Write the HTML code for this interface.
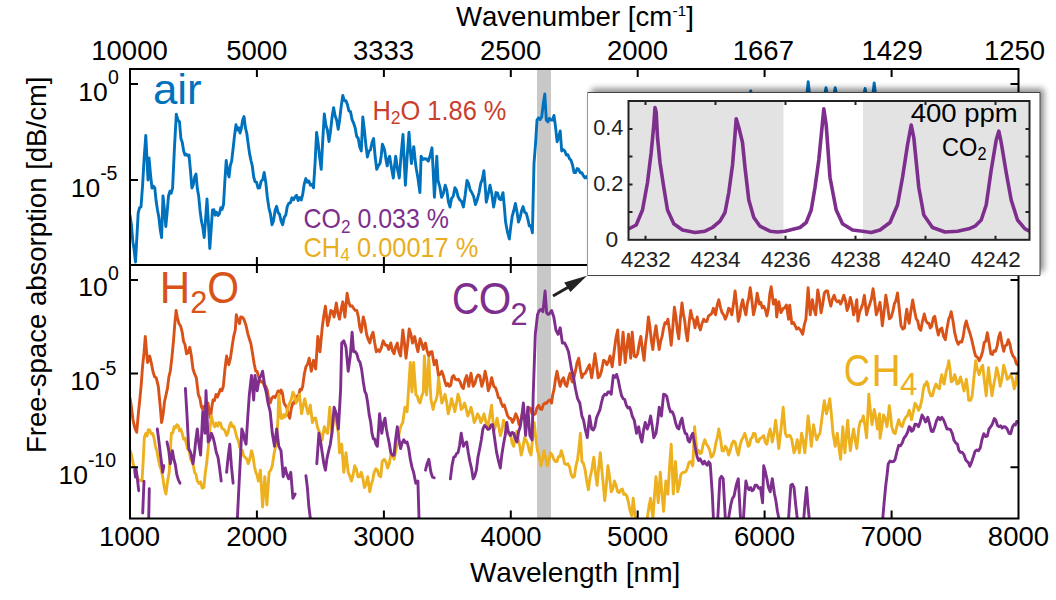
<!DOCTYPE html>
<html><head><meta charset="utf-8"><style>html,body{margin:0;padding:0;background:#fff;overflow:hidden}svg{display:block}</style></head>
<body><svg width="1056" height="600" viewBox="0 0 1056 600" style="font-kerning:none;white-space:pre"><rect x="537" y="69" width="14" height="450" fill="#c8c8c8"/>
<defs><clipPath id="cu"><rect x="130" y="69" width="888.5" height="196"/></clipPath><clipPath id="cl"><rect x="130" y="265" width="888.5" height="253.5"/></clipPath></defs>
<g clip-path="url(#cu)" fill="none" stroke-linejoin="round" stroke-linecap="round" stroke-width="2.9">
<polyline stroke="#0072bd" points="130.0,215.5 131.4,224.7 132.8,241.2 134.1,249.5 135.5,262.0 136.8,238.3 138.2,212.8 139.6,207.7 141.0,207.0 142.6,185.2 144.2,157.3 145.8,135.4 148.0,180.0 149.0,158.0 150.5,174.3 152.0,188.0 153.4,186.2 154.8,188.0 156.1,200.8 157.5,210.0 158.9,217.4 160.2,229.4 161.6,237.5 163.0,196.0 164.4,209.7 165.8,226.5 167.1,212.7 168.5,196.0 169.9,191.3 171.2,193.2 172.6,188.0 174.4,148.7 176.3,114.3 177.9,119.9 179.5,122.0 180.9,138.5 182.3,142.5 183.6,150.7 185.0,155.0 186.3,154.2 187.7,155.8 189.0,155.0 190.4,169.9 191.9,188.0 193.3,184.6 194.6,177.3 196.0,174.0 197.3,188.3 198.7,196.3 200.0,210.0 201.4,220.9 202.8,227.2 204.2,237.5 205.6,219.0 207.0,199.0 208.4,222.4 209.8,248.5 211.1,230.2 212.5,210.0 213.9,209.7 215.2,215.2 216.6,212.2 218.0,215.5 219.4,213.8 220.8,207.7 222.1,209.4 223.5,204.5 224.9,180.5 226.2,160.5 227.6,171.1 229.0,177.0 230.3,165.7 231.7,160.8 233.0,149.5 234.5,135.8 236.0,124.8 237.3,130.0 238.7,127.8 240.0,133.0 241.3,128.5 242.7,119.9 244.0,116.5 245.4,127.7 246.8,133.3 248.2,144.0 249.6,153.9 251.0,160.5 252.3,166.0 253.7,177.0 255.0,181.7 256.5,182.1 258.1,188.0 259.6,187.8 261.1,181.3 262.7,179.8 264.2,172.4 265.8,182.4 267.3,197.0 268.9,207.8 270.4,213.8 272.0,224.8 273.5,221.0 275.1,210.5 276.6,206.3 278.1,212.5 279.6,214.4 281.2,221.5 282.7,224.8 284.2,217.4 285.8,215.0 287.3,206.3 288.9,203.2 290.4,202.9 291.9,197.8 293.5,199.8 295.0,197.0 296.6,195.3 298.1,200.5 299.6,197.6 301.2,200.0 302.7,194.5 304.3,183.8 305.8,178.6 307.3,182.2 308.9,181.0 310.4,185.2 312.0,184.3 313.5,187.8 315.1,162.5 316.6,132.4 318.1,142.9 319.7,157.9 321.2,169.3 322.8,139.4 324.3,113.9 325.9,125.2 327.4,130.0 329.0,141.6 330.5,131.4 332.1,116.9 333.6,107.7 335.1,115.8 336.7,120.2 338.2,129.3 339.7,119.2 341.3,105.6 342.8,95.4 344.3,100.7 345.9,100.6 347.4,104.6 348.9,110.9 350.5,111.6 352.1,119.7 353.6,123.1 355.1,127.5 356.7,136.5 358.2,138.3 359.8,147.3 361.3,150.9 362.8,117.0 364.3,129.5 365.9,145.1 367.4,157.0 368.9,151.3 370.5,149.7 372.1,142.2 373.6,138.5 375.1,156.3 376.7,169.3 378.4,165.6 380.0,163.5 381.2,155.9 382.4,144.2 383.6,147.0 384.8,151.4 386.0,159.8 387.2,165.9 388.4,158.9 389.7,156.2 391.5,168.1 393.3,178.0 394.5,166.0 395.7,156.2 397.5,169.1 399.3,178.0 401.1,154.8 403.0,134.5 404.2,160.7 405.4,185.2 407.2,156.2 409.0,132.1 410.2,148.8 411.4,163.5 412.6,154.2 413.8,146.6 415.0,158.8 416.2,168.3 418.0,178.6 419.9,192.5 421.1,156.2 422.9,159.5 424.7,158.7 426.5,159.0 428.3,161.1 430.1,155.8 432.0,147.8 433.2,171.7 434.4,197.3 435.6,178.3 436.8,156.2 438.0,180.4 439.8,186.8 441.6,197.3 443.4,193.3 445.2,185.2 446.8,190.1 448.4,201.8 450.0,207.0 451.6,198.3 453.3,196.1 454.9,187.7 456.5,190.1 458.1,196.8 459.7,199.7 461.5,201.4 463.4,207.0 465.2,195.0 467.0,180.4 468.6,183.5 470.2,190.0 471.8,192.5 473.6,196.3 475.5,204.6 477.3,199.5 479.1,192.5 480.7,183.5 482.3,179.4 483.9,170.7 485.1,184.8 486.3,202.2 488.1,194.7 490.0,185.2 491.8,193.7 493.6,207.0 494.8,201.0 496.0,192.5 497.6,193.1 499.2,198.8 500.8,199.7 503.0,192.7 504.3,206.6 505.6,222.0 507.5,232.2 509.3,239.0 510.8,226.4 512.3,215.8 513.8,210.5 515.4,203.5 517.0,211.9 518.5,222.0 520.0,217.9 521.6,210.7 523.1,206.5 524.7,212.5 526.2,213.1 527.8,218.9 529.3,226.0 530.9,225.8 532.4,232.8 534.0,163.3 535.5,144.2 537.0,120.1 538.6,117.9 540.1,119.6 541.7,117.0 543.2,104.3 544.8,93.9 546.3,120.1 547.9,121.9 549.4,118.3 551.0,120.1 552.5,120.0 554.0,115.5 555.5,126.6 557.1,141.7 558.7,137.5 560.2,130.9 561.7,151.0 563.2,149.5 564.8,151.0 566.3,155.0 567.9,154.8 569.5,158.7 571.0,160.2 572.5,164.9 574.1,172.6 575.6,172.5 577.2,168.5 578.7,169.5 580.2,172.7 581.8,172.7 583.3,175.7 584.9,177.8 586.4,176.6 588.0,178.8 589.5,180.7 591.0,178.7 592.5,182.7 594.0,180.6 595.5,184.5 597.0,182.3 598.5,186.6 600.0,185.0 601.5,182.9 603.1,187.8 604.6,184.6 606.2,188.2 607.7,185.2 609.2,188.1 610.8,186.2 612.3,189.7 613.8,187.4 615.4,189.8 616.9,187.1 618.5,191.0 620.0,190.0"/>
<polyline stroke="#0072bd" points="749.2,96 750.7,91 752.2,96"/>
<polyline stroke="#0072bd" points="806.7,96 808.2,81.7 809.7,96"/>
<polyline stroke="#0072bd" points="824.5,96 826.0,87.8 827.5,96"/>
<polyline stroke="#0072bd" points="833.7,96 835.2,87.8 836.7,96"/>
<polyline stroke="#0072bd" points="863.6,96 865.1,88.5 866.6,96"/>
<polyline stroke="#0072bd" points="872.7,96 874.2,83 875.7,96"/>
</g>
<g clip-path="url(#cl)" fill="none" stroke-linejoin="round" stroke-linecap="round" stroke-width="2.9">
<polyline stroke="#d95319" points="130.0,398.0 131.5,407.8 133.0,420.0 134.8,427.9 136.7,432.3 138.3,414.1 139.9,398.7 141.2,385.0 142.6,365.8 144.0,352.9 145.3,336.5 147.5,362.5 149.7,356.0 151.3,362.8 152.9,371.2 154.6,376.7 156.2,377.7 158.3,386.3 159.9,403.2 161.6,422.5 163.1,414.5 164.5,401.7 166.0,395.0 167.4,388.6 168.9,376.9 170.3,371.2 171.9,357.6 173.5,340.8 174.8,323.8 176.1,310.5 177.5,318.0 178.9,323.5 180.6,326.0 182.2,332.2 183.6,341.7 185.1,344.9 186.5,353.8 188.2,352.6 189.8,347.3 191.4,356.2 193.0,369.0 194.7,374.2 196.3,377.7 198.4,395.0 199.8,397.8 201.3,406.5 202.7,409.5 204.0,406.6 205.3,407.1 206.7,402.4 208.0,403.0 209.2,412.1 210.5,418.0 211.8,407.0 213.0,400.0 214.5,400.5 216.0,394.5 217.5,397.1 219.0,393.0 220.4,389.3 221.9,390.7 223.3,386.3 224.9,369.6 226.6,356.0 228.8,364.7 230.4,358.4 232.0,347.3 233.7,336.4 235.3,330.0 236.3,314.8 237.9,320.1 239.6,323.5 240.7,317.0 242.3,317.1 243.9,319.2 246.1,325.7 247.7,333.3 249.3,338.7 250.9,343.8 252.6,353.8 254.2,364.0 255.8,371.2 257.1,371.5 258.3,375.5 259.9,380.0 261.5,382.0 262.9,381.8 264.4,386.3 265.8,386.3 267.3,390.5 268.7,399.2 270.2,403.0 271.8,398.0 273.4,396.5 275.0,397.7 276.7,394.3 278.1,390.9 279.6,393.8 281.0,390.0 282.4,392.8 283.9,402.6 285.3,405.2 286.8,407.6 288.2,414.9 289.7,418.2 291.3,408.3 292.9,403.0 294.4,403.3 295.8,396.3 297.3,396.5 298.6,395.7 300.0,389.4 301.4,390.0 302.7,386.3 304.3,374.3 305.9,366.8 307.5,364.3 309.2,358.2 311.3,371.2 313.5,360.3 315.7,369.0 317.8,336.5 320.0,351.7 322.2,327.8 323.8,315.8 325.4,306.2 327.6,325.7 329.2,319.0 330.8,310.5 332.5,311.5 334.1,317.0 336.3,302.9 337.9,313.5 339.5,319.2 341.1,309.6 342.8,301.8 344.9,317.0 347.1,293.2 348.7,301.9 350.3,306.2 352.0,305.8 353.6,308.3 355.2,310.4 356.8,310.5 358.3,316.5 359.7,327.1 361.2,332.2 363.3,317.0 365.0,323.4 366.6,334.3 368.2,339.5 369.8,343.0 371.5,335.8 373.1,332.2 374.7,342.8 376.3,351.7 378.0,349.7 379.6,351.7 381.4,347.6 383.2,340.8 385.4,345.2 387.0,345.1 388.7,349.5 390.8,343.0 392.5,350.9 394.1,353.8 395.7,346.8 397.3,343.0 399.0,352.0 400.6,356.0 402.8,330.0 404.4,342.8 406.0,358.2 407.6,344.4 409.2,328.9 410.9,334.2 412.5,343.0 414.7,336.5 416.3,344.9 417.9,351.7 420.1,338.7 421.7,343.0 423.3,349.5 425.5,343.0 427.1,351.0 428.8,356.0 430.4,352.0 432.0,351.7 434.2,364.7 436.3,360.3 438.5,375.5 440.1,374.4 441.8,371.2 443.4,375.8 445.0,382.0 446.4,385.7 447.9,383.6 449.3,386.3 450.8,385.1 452.2,376.8 453.7,375.5 455.3,379.1 456.9,379.8 458.5,379.3 460.2,382.0 461.8,386.9 463.4,388.5 465.0,380.1 466.7,375.5 468.8,386.3 471.0,373.3 473.2,386.3 474.8,383.8 476.4,377.7 478.0,374.9 479.7,375.5 481.8,386.3 483.5,380.6 485.1,371.2 486.7,378.6 488.3,390.7 490.0,385.8 491.6,377.7 493.8,386.3 495.4,387.6 497.0,392.0 498.4,397.7 499.9,398.2 501.3,403.0 502.8,406.4 504.2,404.9 505.7,409.5 507.5,415.5 509.3,418.2 511.0,418.6 512.6,422.5 514.2,418.9 515.8,413.8 517.5,417.8 519.1,424.7 520.7,421.0 522.3,413.8 524.0,415.2 525.6,418.2 527.2,414.6 528.8,407.3 530.5,408.7 532.1,413.8 533.7,414.7 535.3,413.8 537.0,407.7 538.6,405.2 540.2,408.9 541.8,409.5 543.5,404.3 545.1,403.0 546.7,403.3 548.3,400.8 550.0,399.9 551.6,403.0 552.7,395.0 554.1,389.1 555.6,378.3 557.0,371.2 558.6,379.6 560.2,386.3 561.9,380.1 563.5,377.7 565.1,384.4 566.8,386.3 568.4,378.6 570.0,373.3 572.2,382.0 573.8,378.1 575.4,371.2 577.0,362.9 578.7,358.2 580.3,369.3 581.9,377.7 583.5,374.1 585.2,373.3 587.3,369.0 589.5,364.7 591.7,377.7 593.3,367.0 594.9,353.8 596.5,364.4 598.2,377.7 599.8,376.2 601.4,371.2 603.6,360.3 605.2,361.2 606.8,364.7 608.5,361.8 610.1,356.0 612.2,366.8 614.4,349.5 616.0,337.6 617.7,330.0 619.8,364.7 621.5,349.2 623.1,332.2 625.2,362.5 626.9,346.7 628.5,334.3 630.7,358.2 632.2,332.2 634.3,356.0 636.0,356.9 637.6,353.8 639.2,343.9 640.8,336.5 642.5,349.5 644.1,360.3 645.5,343.7 647.0,332.6 648.4,317.0 649.9,326.8 651.3,340.2 652.8,349.5 654.4,335.6 656.0,325.7 657.6,338.5 659.2,349.5 660.7,341.0 662.1,336.4 663.6,327.8 665.0,322.7 666.5,323.6 667.9,319.2 669.5,330.0 671.2,345.2 672.8,327.3 674.4,307.2 675.9,316.4 677.3,330.1 678.8,338.7 680.4,318.5 682.0,302.9 683.4,313.9 684.7,320.7 686.0,332.3 687.4,340.8 689.0,324.0 690.7,310.5 692.1,317.4 693.6,319.9 695.0,327.8 697.2,317.0 698.8,325.7 700.4,330.0 702.0,323.5 703.7,319.2 705.3,321.5 706.9,321.3 708.5,315.9 710.2,314.8 711.8,313.4 713.4,308.3 715.6,314.8 717.2,305.1 718.8,299.7 720.5,307.6 722.1,312.7 723.7,315.0 725.3,319.2 727.0,315.0 728.6,308.3 730.2,309.4 731.8,314.8 733.5,304.1 735.1,291.0 736.7,304.8 738.3,321.3 739.8,315.6 741.2,305.4 742.7,299.7 744.3,308.7 745.9,314.8 747.4,303.4 748.8,297.8 750.2,287.8 751.9,300.5 753.5,314.8 755.4,306.4 757.2,293.2 759.3,304.0 760.8,302.4 762.2,307.9 763.7,306.2 765.3,309.5 766.9,315.9 768.4,308.6 769.8,294.1 771.2,286.7 773.4,304.0 775.6,299.7 776.7,317.0 778.8,301.8 781.0,312.7 783.2,308.3 784.8,307.8 786.4,305.1 788.6,319.2 789.7,305.1 791.8,323.5 793.5,322.5 795.1,325.7 796.7,329.0 798.3,327.8 800.5,330.0 802.7,334.3 804.3,324.8 805.9,319.2 808.1,287.8 810.2,314.8 812.4,299.7 814.0,308.9 815.7,314.8 817.8,289.9 819.5,300.0 821.1,312.7 822.7,304.3 824.3,293.2 826.0,291.0 827.6,291.0 829.2,299.5 830.8,306.2 832.5,299.0 834.1,295.3 835.7,299.8 837.3,301.8 839.0,300.7 840.6,304.0 842.2,300.5 843.8,295.3 845.5,300.6 847.1,310.5 848.7,306.0 850.3,297.5 852.0,303.8 853.6,314.8 855.2,309.6 856.8,299.7 857.9,321.3 859.5,312.5 861.2,308.3 862.8,303.6 864.4,295.3 866.6,314.8 868.2,308.6 869.8,304.0 871.5,298.5 873.1,288.8 874.7,300.7 876.3,314.8 878.1,309.8 880.0,302.3 881.1,312.1 882.3,325.7 884.0,312.2 885.8,295.3 887.5,305.5 889.3,318.7 891.0,317.6 892.8,311.7 894.4,303.6 895.9,300.6 897.5,293.0 899.2,308.2 901.0,325.7 902.8,329.1 904.5,328.0 905.6,317.1 906.8,309.3 908.0,318.4 909.2,323.3 911.0,310.3 912.7,300.0 914.5,310.4 916.2,318.7 917.7,320.9 919.3,328.6 920.8,330.3 922.5,321.1 924.3,314.0 926.0,320.8 927.8,323.3 929.0,323.3 930.2,328.0 931.7,326.3 933.3,318.0 934.8,316.3 936.5,326.4 938.3,335.0 940.0,329.6 941.8,328.0 943.5,336.1 945.3,339.7 947.0,328.4 948.8,318.7 950.0,316.4 951.2,311.7 953.0,321.0 954.7,332.7 956.5,340.2 958.2,344.3 960.0,341.7 961.7,342.0 963.2,336.6 964.8,325.9 966.3,321.0 968.0,327.6 969.8,332.7 971.5,338.9 973.3,346.7 974.5,352.3 975.7,356.0 977.5,357.4 979.2,360.7 981.0,356.9 982.7,351.3 984.2,342.6 985.8,341.1 987.3,332.7 989.0,342.3 990.8,353.7 992.4,354.5 993.9,350.8 995.5,351.3 997.1,346.4 998.6,337.5 1000.2,332.7 1002.0,343.9 1003.7,351.3 1005.2,345.7 1006.8,344.9 1008.3,339.7 1009.9,344.0 1011.4,351.9 1013.0,356.0 1014.7,358.0 1016.3,363.7 1018.0,365.0"/>
<polyline stroke="#edb120" points="130.0,450.0 131.5,454.8 133.0,462.9 134.5,468.0 135.9,470.9 137.4,477.7 138.8,481.0 140.4,480.1 142.0,481.0 143.2,460.8 144.3,437.7 145.7,433.4 147.0,436.0 148.3,429.8 149.7,430.0 151.1,433.7 152.6,433.4 154.0,437.7 155.4,446.1 156.9,451.0 158.3,459.3 159.8,466.0 161.2,469.8 162.7,476.7 164.3,487.7 165.9,494.0 167.6,480.9 169.2,472.3 171.3,433.3 172.7,433.3 174.1,426.8 175.4,427.9 176.8,424.7 178.2,425.6 179.5,430.8 180.8,429.1 182.2,433.3 183.6,439.2 185.1,438.3 186.5,444.2 187.8,449.4 189.2,451.0 190.6,459.1 191.9,461.5 193.2,464.7 194.6,472.3 196.0,474.5 197.3,481.0 198.9,483.5 200.6,481.9 202.2,488.1 203.8,487.5 205.3,472.8 206.7,462.8 208.2,448.5 209.8,429.9 211.4,416.0 213.1,423.2 214.7,426.8 216.1,423.1 217.6,426.2 219.0,422.5 220.4,423.0 221.9,428.3 223.3,429.0 224.9,430.5 226.6,435.5 228.0,432.7 229.5,425.8 230.9,422.5 232.4,426.7 233.8,426.1 235.3,431.2 236.7,437.1 238.2,440.4 239.6,446.3 240.9,450.9 242.3,450.5 243.7,456.2 245.0,457.2 246.7,458.9 248.3,463.7 249.9,458.5 251.5,450.7 252.9,455.4 254.4,466.2 255.8,472.3 257.1,475.2 258.3,481.0 260.4,470.2 262.6,507.0 264.8,476.7 266.9,504.8 269.1,472.3 270.7,470.2 272.3,465.8 274.0,454.2 275.6,446.3 277.8,422.5 278.8,394.3 281.0,418.2 282.4,418.3 283.7,414.6 285.0,417.0 286.4,413.8 288.0,407.1 289.7,403.0 291.3,399.3 292.9,392.2 294.5,395.3 296.2,403.0 297.8,399.6 299.4,394.3 301.6,413.8 303.2,405.4 304.8,398.7 306.5,407.4 308.1,413.8 310.3,405.2 312.4,422.5 314.0,418.3 315.7,418.2 317.3,426.5 318.9,431.2 320.5,434.3 322.2,439.8 324.3,426.8 326.0,431.4 327.6,433.3 329.8,407.3 331.9,433.3 333.5,421.4 335.2,411.7 336.8,424.1 338.4,433.3 339.5,452.8 341.7,444.2 343.8,472.3 346.0,452.8 348.2,472.3 349.8,475.8 351.4,481.0 353.0,475.4 354.7,465.8 356.3,468.9 357.9,476.7 359.5,476.9 361.2,472.3 362.8,477.9 364.4,487.5 366.0,484.5 367.7,476.7 369.8,491.8 371.3,484.5 372.7,480.1 374.2,472.3 375.8,468.8 377.4,470.2 379.0,475.6 380.7,476.7 382.2,461.5 384.3,459.3 386.0,462.2 387.6,468.0 389.2,463.9 390.8,455.0 392.5,455.3 394.1,459.3 396.2,448.5 397.9,442.0 399.5,431.2 401.1,425.6 402.8,422.5 404.9,407.3 407.1,411.7 408.2,395.0 410.3,362.5 412.0,392.0 413.6,362.5 414.8,379.8 416.0,395.0 417.4,396.1 418.7,401.3 420.1,403.0 421.7,396.2 423.3,392.2 424.4,356.0 426.6,395.0 428.8,358.2 429.9,381.5 431.0,400.0 433.1,409.5 434.5,403.1 436.0,400.1 437.4,394.3 438.5,377.7 440.1,389.5 441.8,403.0 443.4,399.7 445.0,394.3 446.6,401.9 448.2,413.8 449.9,407.6 451.5,398.7 453.1,403.9 454.8,411.7 456.4,403.9 458.0,394.3 459.6,399.4 461.2,409.5 462.9,407.7 464.5,403.0 466.1,408.4 467.8,416.0 469.4,412.5 471.0,407.3 472.6,414.1 474.2,422.5 475.9,419.2 477.5,413.8 479.1,416.2 480.8,422.5 482.4,419.2 484.0,413.8 485.6,420.6 487.3,429.0 489.4,418.2 491.6,405.2 493.8,431.2 495.4,426.3 497.0,418.2 498.6,425.7 500.3,435.5 501.9,430.4 503.5,420.3 505.1,424.8 506.8,431.2 508.0,433.9 509.3,433.3 510.8,435.5 512.2,443.4 513.7,446.3 515.3,436.3 516.9,431.2 518.4,440.7 519.8,445.9 521.2,455.0 522.9,447.8 524.5,437.7 526.1,440.1 527.8,444.2 529.4,451.1 531.0,455.0 532.6,437.6 534.2,422.5 535.9,438.9 537.5,450.7 539.1,456.0 540.8,465.8 542.4,459.9 544.0,450.7 545.6,457.4 547.2,465.8 548.9,460.5 550.5,452.8 552.1,454.9 553.8,459.3 555.4,461.5 557.0,461.5 558.4,456.7 559.9,456.6 561.3,450.7 563.0,456.2 564.6,463.7 566.2,464.5 567.8,463.7 569.5,466.7 571.1,474.5 572.7,477.3 574.3,476.7 576.0,465.5 577.6,459.3 579.0,447.8 580.4,433.3 581.9,461.5 583.5,463.5 585.2,470.2 586.8,481.8 588.4,489.7 590.0,477.8 591.7,470.2 593.8,457.2 595.5,473.3 597.1,485.3 598.7,467.4 600.3,452.8 601.8,469.6 603.2,483.5 604.7,500.5 606.3,485.4 607.9,465.8 609.5,476.5 611.2,491.8 612.8,488.8 614.4,481.0 616.0,485.1 617.7,491.8 619.3,492.6 620.9,489.7 622.4,489.0 623.8,494.4 625.2,494.0 626.9,496.2 628.5,502.7 630.1,510.9 631.8,515.7 633.2,498.3 635.4,518.0"/>
<polyline stroke="#edb120" points="647.3,518.0 649.0,506.3 650.6,498.3 651.8,510.2 653.0,518.0 654.5,495.2 656.0,476.7 658.2,502.7 660.3,472.3 662.0,494.2 663.6,511.3 665.8,481.0 667.9,494.0 669.5,467.1 671.2,444.2 673.3,494.0 675.5,461.5 677.7,491.8 679.3,485.5 680.9,474.5 682.5,472.6 684.2,472.3 685.8,471.7 687.4,468.0 689.0,462.3 690.7,461.5 692.8,465.8 694.6,426.8 695.9,441.7 697.2,452.8 698.6,450.5 700.1,453.7 701.5,452.8 703.1,444.7 704.8,439.8 706.4,444.2 708.0,446.3 709.6,450.0 711.2,457.2 712.9,455.7 714.5,450.7 715.9,442.7 717.4,437.4 718.8,429.0 720.5,438.6 722.1,450.7 723.7,450.9 725.3,446.3 727.0,448.6 728.6,455.0 730.2,450.6 731.8,444.2 733.5,441.0 735.1,442.0 736.7,449.5 738.3,455.0 740.0,445.6 741.6,439.8 743.2,437.5 744.8,433.3 746.5,439.0 748.1,446.3 749.5,445.3 750.8,438.7 752.1,437.7 753.5,433.3 755.1,433.7 756.7,441.4 758.2,442.0 759.9,438.6 761.5,437.7 763.7,435.5 765.3,442.3 766.9,444.2 768.5,434.9 770.2,429.0 772.3,442.0 774.0,433.1 775.6,420.3 777.2,433.3 778.8,448.5 781.0,429.0 783.2,407.3 785.3,433.3 787.0,436.8 788.6,435.5 790.2,435.7 791.8,439.8 794.0,452.8 795.6,448.7 797.2,439.8 799.4,452.8 801.6,433.3 803.2,440.7 804.8,452.8 806.5,435.7 808.1,416.0 809.7,429.8 811.3,446.3 813.5,424.7 815.1,433.3 816.8,439.8 818.4,435.5 820.0,433.3 822.2,416.0 824.3,400.8 826.5,413.8 828.1,407.1 829.8,398.7 831.4,414.7 833.0,433.3 835.2,446.3 837.3,433.3 839.0,448.1 840.6,459.3 842.8,426.8 844.9,452.8 846.3,435.8 847.7,420.3 849.0,437.4 850.3,450.7 852.0,438.5 853.6,429.0 855.2,440.0 856.8,448.5 859.0,426.8 860.4,421.0 861.9,421.2 863.3,416.0 865.0,425.5 866.6,437.7 868.8,394.3 870.4,411.1 872.0,424.7 874.2,409.5 875.8,417.3 877.4,429.0 879.6,413.8 880.0,438.3 881.8,427.5 883.5,415.0 885.2,418.4 887.0,426.7 888.1,417.0 889.3,405.7 890.5,414.1 891.7,426.7 893.5,432.4 895.2,433.7 897.0,425.9 898.7,419.7 900.5,425.3 902.2,426.7 904.0,420.6 905.7,417.3 907.5,415.6 909.2,410.3 910.4,414.2 911.5,419.7 913.2,412.3 915.0,403.3 916.8,405.7 918.5,410.3 920.2,406.9 922.0,398.7 923.1,390.6 924.3,384.7 925.5,385.3 926.7,381.7 927.9,384.0 929.0,391.0 930.8,395.7 932.5,395.7 934.2,388.5 936.0,384.0 937.8,387.7 939.5,388.7 940.6,380.0 941.8,374.7 943.0,381.5 944.2,384.0 945.4,376.1 946.5,370.0 947.6,367.4 948.8,360.7 950.0,369.1 951.2,381.7 953.0,380.5 954.7,374.7 955.9,378.5 957.0,384.0 958.8,382.9 960.5,377.0 962.2,383.1 964.0,391.0 965.1,386.5 966.3,379.3 967.5,388.0 968.7,400.3 970.5,400.4 972.2,395.7 974.0,376.9 975.7,360.7 977.5,370.1 979.2,374.7 981.0,368.3 982.7,365.3 984.5,381.8 986.2,395.7 987.4,380.4 988.5,367.7 990.2,382.8 992.0,395.7 993.6,385.5 995.1,378.0 996.7,367.7 998.5,375.0 1000.2,386.3 1002.0,378.3 1003.7,365.3 1005.5,371.3 1007.2,379.3 1009.0,377.8 1010.7,374.7 1012.5,379.2 1014.2,388.7 1015.5,384.8 1016.7,376.1 1018.0,372.0"/>
<polyline stroke="#7e2f8e" points="134.7,470.0 135.5,477.0"/>
<polyline stroke="#7e2f8e" points="136.0,468.7 137.3,478.2 138.7,490.7"/>
<polyline stroke="#7e2f8e" points="142.7,513.0 144.0,481.3"/>
<polyline stroke="#7e2f8e" points="148.7,518.7 149.3,488.7"/>
<polyline stroke="#7e2f8e" points="157.3,429.0 158.9,441.1 160.5,455.0 162.7,472.3 163.8,465.8"/>
<polyline stroke="#7e2f8e" points="167.0,442.0 168.7,450.4 170.3,463.7 172.4,450.7 173.9,459.4 175.3,464.5 176.8,474.5 178.4,479.9 180.0,483.2"/>
<polyline stroke="#7e2f8e" points="185.4,388.5 187.1,417.1 188.7,448.5 190.8,452.8 193.0,463.7 194.4,453.7 195.9,439.1 197.3,429.0 198.9,443.5 200.6,455.0 202.8,411.7 203.9,421.0 205.0,433.3 206.0,390.7 208.2,442.0 209.8,439.6 211.4,433.3 213.1,437.5 214.7,444.2 216.3,452.6 218.0,457.2 219.6,468.3 221.2,481.0"/>
<polyline stroke="#7e2f8e" points="226.6,472.3 228.2,456.6 229.8,444.2 231.4,465.9 233.1,483.2"/>
<polyline stroke="#7e2f8e" points="237.4,518.0 238.9,487.3 240.3,460.6 241.8,429.0 243.2,432.7 244.7,440.2 246.1,444.2 247.7,418.0 249.3,395.0 251.5,375.5 253.7,400.0 255.0,375.5 257.2,390.7 259.3,377.7 261.0,376.1 262.6,371.2 264.8,386.3 266.4,393.1 268.0,403.0 270.2,411.7 272.3,433.3 274.5,446.3 276.7,429.0 278.8,446.3 281.0,450.7 283.2,476.7 285.3,468.0 287.0,475.0 288.6,478.8 290.8,472.3 292.9,498.3 295.1,494.0"/>
<polyline stroke="#7e2f8e" points="305.9,475.6 307.4,487.8 308.8,506.0 310.3,518.0"/>
<polyline stroke="#7e2f8e" points="316.8,463.7 318.9,433.3 320.5,440.7 322.2,452.8 323.8,463.5 325.4,470.2 327.0,458.4 328.7,450.7 330.3,444.3 331.9,433.3 334.1,407.3 336.3,413.8 338.4,429.0 340.6,390.0 341.7,343.0 343.8,340.8 346.0,347.3 348.2,371.2 350.3,356.0 352.1,332.2 353.6,351.7 355.2,351.5 356.8,353.8 358.5,360.0 360.1,362.5 361.7,369.9 363.3,382.0 364.8,391.3 366.2,394.2 367.7,403.0 369.1,414.1 370.6,421.7 372.0,433.3 373.4,439.0 374.7,438.9 376.0,444.4 377.4,446.3 379.6,413.8 381.8,433.3 383.4,423.3 385.0,418.2 386.3,428.4 387.6,435.5 389.2,443.0 390.8,452.8 392.5,455.2 394.1,455.0 395.7,438.6 397.3,426.8 399.0,439.0 400.6,448.5 402.2,442.7 403.8,439.8 405.5,442.7 407.1,442.0 408.7,448.5 410.3,459.3 412.0,467.4 413.6,472.3 415.8,483.2 417.9,481.0 419.0,518.0"/>
<polyline stroke="#7e2f8e" points="425.5,470.2 427.1,463.7 428.8,459.3 430.9,472.3 432.5,477.0 434.2,477.8"/>
<polyline stroke="#7e2f8e" points="450.4,478.8 452.0,465.6 453.7,457.2 455.1,456.7 456.6,453.5 458.0,452.8 459.6,445.5 461.2,433.3 463.4,446.3 465.0,443.1 466.7,442.0 468.3,452.7 469.9,461.5 471.5,468.3 473.2,478.8 474.8,475.9 476.4,470.2 478.0,457.0 479.7,448.5 481.3,439.9 482.9,429.0 484.5,425.5 486.2,426.8 487.8,429.2 489.4,429.0 491.0,425.0 492.7,424.7 494.8,439.8 496.5,451.9 498.1,459.3 500.3,468.0 501.9,454.2 503.5,444.2 505.1,435.7 506.8,422.5 508.2,431.2 510.4,435.5 512.0,432.4 513.7,433.3 515.3,438.5 516.9,442.0 518.5,432.1 520.2,426.8 521.8,416.7 523.4,403.0 525.6,435.5 527.8,407.3 529.9,435.5 532.1,439.8 533.2,395.0 535.3,334.3 537.5,314.8 539.1,310.8 540.8,309.4 542.9,311.6 545.1,291.0 546.6,312.7 548.0,314.3 549.4,313.8 551.6,310.5 553.8,317.0 555.9,330.0 558.1,334.3 560.2,327.8 562.4,343.0 564.6,343.0 566.8,347.3 568.4,351.6 570.0,360.3 571.6,369.7 573.2,375.5 575.4,388.5 577.6,398.7 579.8,403.0 581.9,416.0 583.5,420.1 585.2,429.0 587.3,437.7 589.5,416.0 591.7,429.0 593.3,430.0 594.9,426.8 596.5,417.9 598.2,413.8 599.8,410.1 601.4,403.0 603.0,396.7 604.7,394.3 606.4,395.0 608.0,392.0 609.6,391.9 611.2,394.3 613.3,375.5 615.0,377.4 616.6,374.4 618.2,379.9 619.8,388.0 621.5,395.5 623.1,398.7 624.7,399.5 626.3,405.2 628.0,408.1 629.6,407.3 630.9,410.7 632.2,416.0 634.3,420.3 636.5,433.3 638.7,426.8 640.3,436.6 641.9,442.0 643.5,430.3 645.2,422.5 647.3,429.0 649.0,423.6 650.6,416.0 652.2,426.0 653.8,437.7 656.0,433.3 657.6,422.0 659.2,407.3 661.4,416.0 663.6,394.3 665.2,394.6 666.8,396.5 669.0,407.3 670.6,411.9 672.2,411.7 673.9,415.5 675.5,422.5 677.1,427.4 678.8,429.0 680.4,422.1 682.0,418.2 683.6,427.7 685.2,433.3 686.7,433.8 688.1,440.4 689.6,442.0 691.2,436.2 692.8,433.3 695.0,446.3 697.2,457.2 698.6,460.4 700.1,458.8 701.5,461.5 702.9,464.0 704.4,461.3 705.8,463.7 707.3,465.2 708.7,461.8 710.2,463.7 712.3,494.0 713.4,518.0"/>
<polyline stroke="#7e2f8e" points="717.8,518.0 719.9,478.8 721.5,476.4 723.2,478.8 725.3,518.0"/>
<polyline stroke="#7e2f8e" points="728.6,518.0 730.8,504.8 732.4,498.5 734.0,496.2 736.2,485.3 738.3,478.8 740.5,518.0"/>
<polyline stroke="#7e2f8e" points="743.5,518.0 744.7,498.1 745.9,481.0 747.5,487.7 749.2,489.7 750.6,487.5 752.1,490.8 753.5,489.7 755.1,485.2 756.8,485.3 758.6,488.3 760.4,487.5 762.6,502.7 763.7,465.8 765.3,471.5 766.9,478.8 768.5,487.7 770.2,491.8 772.3,478.8 774.5,494.0 775.9,500.8 777.4,511.3 778.8,518.0"/>
<polyline stroke="#7e2f8e" points="788.6,518.0 790.8,485.3 792.4,484.3 794.0,487.5 795.6,503.9 797.2,518.0"/>
<polyline stroke="#7e2f8e" points="803.8,518.0 805.2,500.9 806.6,487.5 807.9,504.7 809.2,518.0"/>
<polyline stroke="#7e2f8e" points="882.8,518.0 884.3,500.6 885.8,485.0 887.0,475.5 888.2,464.0 890.0,461.1 891.7,461.7 893.5,461.6 895.2,459.3 897.0,451.3 898.7,445.3 900.5,445.7 902.2,443.0 904.0,438.0 905.7,436.0 907.5,432.5 909.2,426.7 910.4,427.6 911.5,431.3 913.2,430.0 915.0,424.3 916.8,424.5 918.5,426.7 920.2,421.9 922.0,415.0 923.8,417.7 925.5,422.0 926.6,420.8 927.8,417.3 929.5,423.4 931.3,431.3 933.0,431.5 934.8,426.7 936.5,420.7 938.3,417.3 940.0,419.8 941.8,417.3 943.5,419.8 945.3,424.3 947.0,429.0 948.8,429.0 950.5,429.7 952.3,433.7 954.0,440.3 955.8,443.0 957.4,444.2 958.9,450.4 960.5,452.3 962.2,452.3 964.0,454.7 965.8,460.1 967.5,461.7 968.6,463.0 969.8,466.3 971.5,462.4 973.3,457.0 975.0,451.4 976.8,450.0 978.5,450.7 980.3,447.7 982.0,439.5 983.8,433.7 985.5,436.5 987.3,436.0 989.0,429.0 990.8,426.7 992.5,423.8 994.3,418.5 995.9,420.3 997.4,425.4 999.0,426.7 1000.6,425.7 1002.1,428.1 1003.7,426.7 1005.5,427.0 1007.2,429.0 1009.0,433.4 1010.7,433.7 1012.5,426.8 1014.2,424.3 1015.5,424.9 1016.7,421.4 1018.0,422.0"/>
</g>
<g stroke="#000" stroke-width="2" fill="none">
<rect x="130" y="69" width="888.5" height="449.5"/>
<line x1="130" y1="265" x2="1018.5" y2="265"/>
<path d="M256.9 69v8M256.9 257v16M256.9 518.5v-8M383.9 69v8M383.9 257v16M383.9 518.5v-8M510.8 69v8M510.8 257v16M510.8 518.5v-8M637.7 69v8M637.7 257v16M637.7 518.5v-8M764.6 69v8M764.6 257v16M764.6 518.5v-8M891.6 69v8M891.6 257v16M891.6 518.5v-8M130 84h8M1018.5 84h-8M130 180h8M1018.5 180h-8M130 280h8M1018.5 280h-8M130 373.5h8M1018.5 373.5h-8M130 467.3h8M1018.5 467.3h-8"/>
</g>
<g transform="translate(93.35,59.80) scale(1.0000,1) translate(-2.09,0)" fill="#000" font-family="Liberation Sans, sans-serif" ><text x="0.00" y="0.00" font-size="27.5">10000</text></g>
<g transform="translate(227.30,59.80) scale(1.0000,1) translate(-1.10,0)" fill="#000" font-family="Liberation Sans, sans-serif" ><text x="0.00" y="0.00" font-size="27.5">5000</text></g>
<g transform="translate(353.94,59.80) scale(1.0000,1) translate(-1.05,0)" fill="#000" font-family="Liberation Sans, sans-serif" ><text x="0.00" y="0.00" font-size="27.5">3333</text></g>
<g transform="translate(481.44,59.80) scale(1.0000,1) translate(-1.38,0)" fill="#000" font-family="Liberation Sans, sans-serif" ><text x="0.00" y="0.00" font-size="27.5">2500</text></g>
<g transform="translate(608.34,59.80) scale(1.0000,1) translate(-1.38,0)" fill="#000" font-family="Liberation Sans, sans-serif" ><text x="0.00" y="0.00" font-size="27.5">2000</text></g>
<g transform="translate(734.85,59.80) scale(1.0000,1) translate(-2.09,0)" fill="#000" font-family="Liberation Sans, sans-serif" ><text x="0.00" y="0.00" font-size="27.5">1667</text></g>
<g transform="translate(863.61,59.80) scale(1.0000,1) translate(-2.09,0)" fill="#000" font-family="Liberation Sans, sans-serif" ><text x="0.00" y="0.00" font-size="27.5">1429</text></g>
<g transform="translate(986.00,59.80) scale(1.0000,1) translate(-2.09,0)" fill="#000" font-family="Liberation Sans, sans-serif" ><text x="0.00" y="0.00" font-size="27.5">1250</text></g>
<g transform="translate(101.00,546.40) scale(1.0000,1) translate(-2.09,0)" fill="#000" font-family="Liberation Sans, sans-serif" ><text x="0.00" y="0.00" font-size="27.5">1000</text></g>
<g transform="translate(227.57,546.40) scale(1.0000,1) translate(-1.38,0)" fill="#000" font-family="Liberation Sans, sans-serif" ><text x="0.00" y="0.00" font-size="27.5">2000</text></g>
<g transform="translate(354.33,546.40) scale(1.0000,1) translate(-1.05,0)" fill="#000" font-family="Liberation Sans, sans-serif" ><text x="0.00" y="0.00" font-size="27.5">3000</text></g>
<g transform="translate(481.05,546.40) scale(1.0000,1) translate(-0.63,0)" fill="#000" font-family="Liberation Sans, sans-serif" ><text x="0.00" y="0.00" font-size="27.5">4000</text></g>
<g transform="translate(608.21,546.40) scale(1.0000,1) translate(-1.10,0)" fill="#000" font-family="Liberation Sans, sans-serif" ><text x="0.00" y="0.00" font-size="27.5">5000</text></g>
<g transform="translate(735.29,546.40) scale(1.0000,1) translate(-1.40,0)" fill="#000" font-family="Liberation Sans, sans-serif" ><text x="0.00" y="0.00" font-size="27.5">6000</text></g>
<g transform="translate(862.23,546.40) scale(1.0000,1) translate(-1.41,0)" fill="#000" font-family="Liberation Sans, sans-serif" ><text x="0.00" y="0.00" font-size="27.5">7000</text></g>
<g transform="translate(989.05,546.40) scale(1.0000,1) translate(-1.20,0)" fill="#000" font-family="Liberation Sans, sans-serif" ><text x="0.00" y="0.00" font-size="27.5">8000</text></g>
<g transform="translate(80.28,100.80) scale(1.0000,1) translate(-2.02,0)" fill="#000" font-family="Liberation Sans, sans-serif" ><text x="0.00" y="0.00" font-size="26.5">10</text></g>
<g transform="translate(108.75,83.62) scale(1.0000,1) translate(-0.76,0)" fill="#000" font-family="Liberation Sans, sans-serif" ><text x="0.00" y="0.00" font-size="19.5">0</text></g>
<g transform="translate(72.88,197.00) scale(1.0000,1) translate(-2.02,0)" fill="#000" font-family="Liberation Sans, sans-serif" ><text x="0.00" y="0.00" font-size="26.5">10</text></g>
<g transform="translate(101.00,179.62) scale(1.0000,1) translate(-0.87,0)" fill="#000" font-family="Liberation Sans, sans-serif" ><text x="0.00" y="0.00" font-size="19.5">-5</text></g>
<g transform="translate(80.28,295.80) scale(1.0000,1) translate(-2.02,0)" fill="#000" font-family="Liberation Sans, sans-serif" ><text x="0.00" y="0.00" font-size="26.5">10</text></g>
<g transform="translate(108.75,279.87) scale(1.0000,1) translate(-0.76,0)" fill="#000" font-family="Liberation Sans, sans-serif" ><text x="0.00" y="0.00" font-size="19.5">0</text></g>
<g transform="translate(72.33,390.00) scale(1.0000,1) translate(-2.02,0)" fill="#000" font-family="Liberation Sans, sans-serif" ><text x="0.00" y="0.00" font-size="26.5">10</text></g>
<g transform="translate(100.00,374.62) scale(1.0000,1) translate(-0.87,0)" fill="#000" font-family="Liberation Sans, sans-serif" ><text x="0.00" y="0.00" font-size="19.5">-5</text></g>
<g transform="translate(60.58,483.70) scale(1.0000,1) translate(-2.02,0)" fill="#000" font-family="Liberation Sans, sans-serif" ><text x="0.00" y="0.00" font-size="26.5">10</text></g>
<g transform="translate(88.75,467.37) scale(1.0000,1) translate(-0.87,0)" fill="#000" font-family="Liberation Sans, sans-serif" ><text x="0.00" y="0.00" font-size="19.5">-10</text></g>
<g transform="translate(456.00,25.70) scale(1.0050,1) translate(-0.12,0)" fill="#000" font-family="Liberation Sans, sans-serif" ><text x="0.00" y="0.00" font-size="27.5">Wavenumber [cm</text><text x="215.47" y="-9.70" font-size="15.5">-1</text><text x="229.26" y="0.00" font-size="27.5">]</text></g>
<g transform="translate(470.00,582.00) scale(1.0207,1) translate(-0.12,0)" fill="#000" font-family="Liberation Sans, sans-serif" ><text x="0.00" y="0.00" font-size="27.5">Wavelength [nm]</text></g>
<g transform="translate(46.40,450.80) rotate(-90) scale(1.0019,1) translate(-2.26,0)" fill="#000" font-family="Liberation Sans, sans-serif" ><text x="0.00" y="0.00" font-size="27.5">Free-space absorption [dB/cm]</text></g>
<g transform="translate(154.80,103.70) scale(1.0211,1) translate(-1.83,0)" fill="#0072bd" font-family="Liberation Sans, sans-serif" ><text x="0.00" y="0.00" font-size="43">air</text></g>
<g transform="translate(374.50,119.60) scale(0.9236,1) translate(-2.26,0)" fill="#c8402c" font-family="Liberation Sans, sans-serif" ><text x="0.00" y="0.00" font-size="27.5">H</text><text x="19.86" y="4.10" font-size="19">2</text><text x="30.43" y="0.00" font-size="27.5">O 1.86 %</text></g>
<g transform="translate(304.80,228.40) scale(0.9064,1) translate(-1.40,0)" fill="#7e2f8e" font-family="Liberation Sans, sans-serif" ><text x="0.00" y="0.00" font-size="27.5">CO</text><text x="41.25" y="4.10" font-size="19">2</text><text x="59.46" y="0.00" font-size="27.5">0.033 %</text></g>
<g transform="translate(304.80,256.80) scale(0.9233,1) translate(-1.40,0)" fill="#e8ae22" font-family="Liberation Sans, sans-serif" ><text x="0.00" y="0.00" font-size="27.5">CH</text><text x="39.72" y="4.10" font-size="19">4</text><text x="57.93" y="0.00" font-size="27.5">0.00017 %</text></g>
<text transform="translate(163.30,303.00) scale(0.9561,1) translate(-3.61,0)" font-size="44" fill="#d95319" font-family="Liberation Sans, sans-serif">H</text>
<text transform="translate(191.70,312.50) scale(1.0076,1) translate(-1.53,0)" font-size="30.5" fill="#d95319" font-family="Liberation Sans, sans-serif">2</text>
<text transform="translate(209.30,303.00) scale(0.9289,1) translate(-2.08,0)" font-size="44" fill="#d95319" font-family="Liberation Sans, sans-serif">O</text>
<text transform="translate(454.00,313.60) scale(0.8613,1) translate(-2.23,0)" font-size="44" fill="#7e2f8e" font-family="Liberation Sans, sans-serif">C</text>
<text transform="translate(480.70,313.60) scale(0.9522,1) translate(-2.08,0)" font-size="44" fill="#7e2f8e" font-family="Liberation Sans, sans-serif">O</text>
<text transform="translate(512.00,325.00) scale(0.9913,1) translate(-1.56,0)" font-size="31" fill="#7e2f8e" font-family="Liberation Sans, sans-serif">2</text>
<text transform="translate(845.70,386.00) scale(0.8254,1) translate(-2.23,0)" font-size="44" fill="#edb120" font-family="Liberation Sans, sans-serif">C</text>
<text transform="translate(874.70,386.00) scale(0.9195,1) translate(-3.61,0)" font-size="44" fill="#edb120" font-family="Liberation Sans, sans-serif">H</text>
<text transform="translate(900.70,395.30) scale(1.0051,1) translate(-0.71,0)" font-size="31" fill="#edb120" font-family="Liberation Sans, sans-serif">4</text>
<line x1="553" y1="296" x2="572" y2="285" stroke="#222" stroke-width="3"/>
<path d="M587 275.8 L564.2 282.5 L570.4 292 Z" fill="#222"/>
<defs><filter id="sh" x="-10%" y="-20%" width="130%" height="140%"><feGaussianBlur in="SourceAlpha" stdDeviation="3"/><feOffset dx="4" dy="-4"/><feComponentTransfer><feFuncA type="linear" slope="0.45"/></feComponentTransfer><feMerge><feMergeNode/><feMergeNode in="SourceGraphic"/></feMerge></filter></defs>
<rect x="587.5" y="92.5" width="452.5" height="183" fill="#fff" filter="url(#sh)"/>
<path d="M587.5 275.5V92.5" stroke="#999" stroke-width="1" fill="none"/>
<path d="M587.5 92.5H1040V275.5H587.5" stroke="#444" stroke-width="1" fill="none"/>
<rect x="628.5" y="101" width="155" height="138.5" fill="#e3e3e3"/>
<rect x="863" y="101" width="166.5" height="138.5" fill="#e3e3e3"/>
<polyline fill="none" stroke="#7e2f8e" stroke-width="3.6" stroke-linejoin="round" points="628.5,229.0 636.2,225.0 642.5,210.0 647.5,182.5 651.2,152.5 653.8,125.0 655.0,107.5 656.2,112.5 657.5,137.5 660.0,162.5 663.8,187.5 667.5,210.0 673.8,223.8 682.5,230.0 695.0,232.5 705.0,231.2 712.5,227.5 720.0,221.2 725.0,212.5 728.8,192.5 732.5,165.0 735.0,135.0 736.2,118.8 738.8,127.5 742.5,142.5 745.0,167.5 748.8,200.0 753.8,217.5 760.0,226.2 770.0,231.2 777.5,232.0 785.0,231.2 790.0,230.0 800.0,227.5 806.2,222.5 811.2,210.0 815.0,187.5 818.8,160.0 822.5,122.5 823.8,108.8 826.2,125.0 830.0,177.5 836.2,210.0 842.5,223.8 852.5,230.0 862.5,231.2 871.2,232.5 880.0,230.0 890.0,222.5 897.5,205.0 902.5,177.5 907.5,145.0 911.2,125.0 913.8,137.5 918.8,187.5 923.8,215.0 932.5,227.5 945.0,232.0 957.5,231.2 968.8,228.8 975.0,226.2 981.2,220.0 986.2,205.0 991.2,170.0 996.2,140.0 998.8,131.2 1001.2,142.5 1006.2,172.5 1011.2,200.0 1017.5,220.0 1025.0,228.8 1029.5,231.2"/>
<g stroke="#222" stroke-width="2" fill="none">
<rect x="628.5" y="101" width="401" height="138.8"/>
<path d="M645.5 239.8v-4M645.5 101v4M715.5 239.8v-4M715.5 101v4M785.5 239.8v-4M785.5 101v4M855.5 239.8v-4M855.5 101v4M925.5 239.8v-4M925.5 101v4M995.5 239.8v-4M995.5 101v4M628.5 212.1h4M1029.5 212.1h-4M628.5 184.4h4M1029.5 184.4h-4M628.5 156.6h4M1029.5 156.6h-4M628.5 128.9h4M1029.5 128.9h-4"/>
</g>
<g transform="translate(621.30,266.70) scale(1.0000,1) translate(-0.52,0)" fill="#222" font-family="Liberation Sans, sans-serif" ><text x="0.00" y="0.00" font-size="22.5">4232</text></g>
<g transform="translate(691.06,266.70) scale(1.0000,1) translate(-0.52,0)" fill="#222" font-family="Liberation Sans, sans-serif" ><text x="0.00" y="0.00" font-size="22.5">4234</text></g>
<g transform="translate(761.23,266.70) scale(1.0000,1) translate(-0.52,0)" fill="#222" font-family="Liberation Sans, sans-serif" ><text x="0.00" y="0.00" font-size="22.5">4236</text></g>
<g transform="translate(831.22,266.70) scale(1.0000,1) translate(-0.52,0)" fill="#222" font-family="Liberation Sans, sans-serif" ><text x="0.00" y="0.00" font-size="22.5">4238</text></g>
<g transform="translate(901.17,266.70) scale(1.0000,1) translate(-0.52,0)" fill="#222" font-family="Liberation Sans, sans-serif" ><text x="0.00" y="0.00" font-size="22.5">4240</text></g>
<g transform="translate(971.30,266.70) scale(1.0000,1) translate(-0.52,0)" fill="#222" font-family="Liberation Sans, sans-serif" ><text x="0.00" y="0.00" font-size="22.5">4242</text></g>
<g transform="translate(594.00,134.75) scale(0.9667,1) translate(-0.88,0)" fill="#222" font-family="Liberation Sans, sans-serif" ><text x="0.00" y="0.00" font-size="22.5">0.4</text></g>
<g transform="translate(594.00,190.75) scale(0.9652,1) translate(-0.88,0)" fill="#222" font-family="Liberation Sans, sans-serif" ><text x="0.00" y="0.00" font-size="22.5">0.2</text></g>
<g transform="translate(606.30,246.70) scale(1.0134,1) translate(-0.88,0)" fill="#222" font-family="Liberation Sans, sans-serif" ><text x="0.00" y="0.00" font-size="22.5">0</text></g>
<g transform="translate(911.30,122.30) scale(1.0590,1) translate(-0.60,0)" fill="#000" font-family="Liberation Sans, sans-serif" ><text x="0.00" y="0.00" font-size="26">400 ppm</text></g>
<g transform="translate(943.30,155.70) scale(0.9063,1) translate(-1.32,0)" fill="#000" font-family="Liberation Sans, sans-serif" ><text x="0.00" y="0.00" font-size="26">CO</text><text x="39.00" y="4.60" font-size="18">2</text></g></svg></body></html>
